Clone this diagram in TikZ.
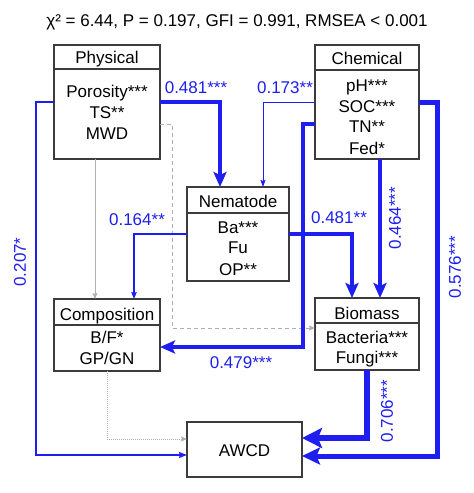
\documentclass[tikz,border=0pt]{standalone}
\usepackage{fontspec}
\setmainfont{Liberation Sans}
\usetikzlibrary{arrows.meta,calc}
\definecolor{pb}{RGB}{30,30,240}
\definecolor{gl}{RGB}{175,175,175}
\definecolor{bd}{RGB}{60,60,60}
\begin{document}
\begin{tikzpicture}[x=1pt,y=-1pt,
  font=\fontsize{17}{21}\selectfont,
  box/.style={draw=bd, line width=1.1pt, inner sep=0pt, outer sep=0pt},
  hdr/.style={draw=bd, line width=1.1pt},
  txt/.style={anchor=base, inner sep=0pt},
  lbl/.style={text=pb, inner sep=0pt},
  rlbl/.style={text=pb, inner sep=0pt, rotate=90},
  athin/.style={draw=pb, line width=1pt, -{Stealth[length=7pt,width=5pt,inset=1pt]}},
  amed/.style={draw=pb, line width=1.6pt, -{Stealth[length=7pt,width=5.5pt,inset=1pt]}},
  amedb/.style={draw=pb, line width=2pt, -{Stealth[length=8pt,width=6pt,inset=1pt]}},
  athick/.style={draw=pb, line width=4.5pt, -{Stealth[length=15pt,width=13pt,inset=3pt]}},
  athickb/.style={draw=pb, line width=5pt, -{Stealth[length=18pt,width=17pt,inset=3.5pt]}},
  ahuge/.style={draw=pb, line width=6.5pt, -{Stealth[length=20pt,width=20pt,inset=4pt]}},
  agray/.style={draw=gl, line width=1pt, -{Stealth[length=6pt,width=5pt,inset=1pt]}},
]
\useasboundingbox (0,0) rectangle (474,493);

% title
\node[inner sep=0pt] (title) at (237,22) {χ² = 6.44, P = 0.197, GFI = 0.991, RMSEA < 0.001};

% boxes
\node[box, minimum width=106pt, minimum height=114pt] (phys) at (107,102) {};
\node[box, minimum width=104pt, minimum height=114pt] (chem) at (367,102) {};
\node[box, minimum width=102pt, minimum height=94pt] (nema) at (238,234) {};
\node[box, minimum width=106pt, minimum height=72pt] (comp) at (107,335) {};
\node[box, minimum width=104pt, minimum height=72pt] (bio) at (367,334) {};
\node[box, minimum width=115pt, minimum height=55pt] (awcd) at (244.5,449.5) {};

% header dividers
\draw[hdr] (phys.west |- 0,69) -- (phys.east |- 0,69);
\draw[hdr] (chem.west |- 0,70) -- (chem.east |- 0,70);
\draw[hdr] (nema.west |- 0,213) -- (nema.east |- 0,213);
\draw[hdr] (comp.west |- 0,325) -- (comp.east |- 0,325);
\draw[hdr] (bio.west |- 0,323) -- (bio.east |- 0,323);

% texts
\node[txt] (physh) at (107,63) {Physical};
\node[txt] (phys1) at (107,97) {Porosity***};
\node[txt] (phys2) at (107,118) {TS**};
\node[txt] (phys3) at (107,139) {MWD};

\node[txt] (chemh) at (367,64) {Chemical};
\node[txt] (chem1) at (367,91) {pH***};
\node[txt] (chem2) at (367,112) {SOC***};
\node[txt] (chem3) at (367,132) {TN**};
\node[txt] (chem4) at (367,154) {Fed*};

\node[txt] (nemah) at (238,207) {Nematode};
\node[txt] (nema1) at (238,233) {Ba***};
\node[txt] (nema2) at (238,253) {Fu};
\node[txt] (nema3) at (238,275) {OP**};

\node[txt] (comph) at (107,320) {Composition};
\node[txt] (comp1) at (107,343) {B/F*};
\node[txt] (comp2) at (107,364) {GP/GN};

\node[txt] (bioh) at (367,319) {Biomass};
\node[txt] (bio1) at (367,343) {Bacteria***};
\node[txt] (bio2) at (367,363) {Fungi***};

\node[txt] (awcdt) at (244.5,456) {AWCD};

% gray paths
\draw[agray] ($(phys.south)+(-12,0)$) -- ($(comp.north)+(-12,0)$);
\draw[agray, dashed, dash pattern=on 4pt off 3pt] ($(phys.east)+(0,22)$) -| (172,328) -- ($(bio.west)+(0,-6)$);
\draw[agray, densely dotted] (comp.south) |- ($(awcd.west)+(0,-10.5)$);

% blue paths
\draw[amedb] (phys.west) -| (36,455) -- ($(awcd.west)+(0,5.5)$);
\draw[athin] (chem.west) -| ($(nema.north)+(25,0)$);
\draw[amed] (nema.west) -| ($(comp.north)+(27,0)$);
\draw[athick] ($(chem.west)+(0,22)$) -| (303,347) -- ($(comp.east)+(0,12)$);
\draw[athick] (phys.east) -| ($(nema.north)+(-18,0)$);
\draw[athick] (nema.east) -| ($(bio.north)+(-15,0)$);
\draw[athick] ($(chem.south)+(13,0)$) -- ($(bio.north)+(13,0)$);
\draw[athickb] (chem.east) -| (437,456) -- ($(awcd.east)+(0,6.5)$);
\draw[ahuge] (bio.south) |- ($(awcd.east)+(0,-11.5)$);

% labels
\node[lbl] (l1) at (196,88) {0.481***};
\node[lbl] (l2) at (285,88) {0.173**};
\node[lbl] (l3) at (137,220) {0.164**};
\node[lbl] (l4) at (339,218) {0.481**};
\node[lbl] (l5) at (241,363) {0.479***};
\node[rlbl] (l6) at (20,262) {0.207*};
\node[rlbl] (l7) at (395,218) {0.464***};
\node[rlbl] (l8) at (455,267) {0.576***};
\node[rlbl] (l9) at (387,411) {0.706***};
\end{tikzpicture}
\end{document}
